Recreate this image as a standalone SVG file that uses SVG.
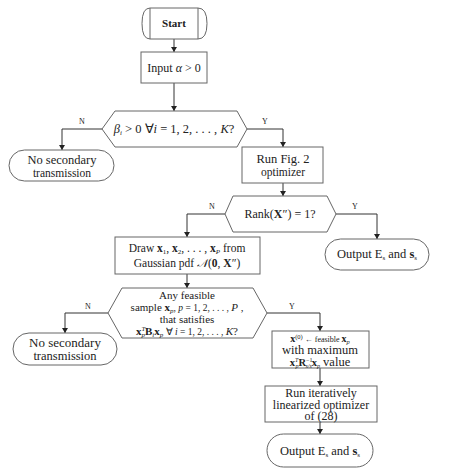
<svg xmlns="http://www.w3.org/2000/svg" width="474" height="473" viewBox="0 0 474 473">
<defs>
<marker id="ah" markerWidth="6" markerHeight="6" refX="5" refY="3" orient="auto" markerUnits="userSpaceOnUse">
<path d="M0,0 L5,3 L0,6 Z" fill="#222"/>
</marker>
<style>
.s{fill:#fff;stroke:#666;stroke-width:1}
.c{fill:none;stroke:#333;stroke-width:1;marker-end:url(#ah)}
text{font-family:"Liberation Serif","Times New Roman",serif;fill:#222;text-anchor:middle}
.l{font-size:8px}
.sub{font-size:7px}
</style>
</defs>
<rect width="474" height="473" fill="#fff"/>
<g id="connectors">
<path class="c" d="M174,39 V52"/>
<path class="c" d="M174,83 V111"/>
<path class="c" d="M102,129 H62 V150"/>
<path class="c" d="M247,129 H283 V147"/>
<path class="c" d="M283,183 V196"/>
<path class="c" d="M225,214 H187 V237"/>
<path class="c" d="M336,214 H377 V239"/>
<path class="c" d="M187,274 V288"/>
<path class="c" d="M108,313 H65 V333"/>
<path class="c" d="M267,313 H320 V331"/>
<path class="c" d="M320,368 V386"/>
<path class="c" d="M320,422 V434"/>
<text class="l" x="82" y="124">N</text>
<text class="l" x="265" y="124">Y</text>
<text class="l" x="212" y="209">N</text>
<text class="l" x="355" y="209">Y</text>
<text class="l" x="88" y="309">N</text>
<text class="l" x="292" y="309">Y</text>
</g>
<g id="start">
<path class="s" d="M150,8 H198 Q207,8 207,23.5 Q207,39 198,39 H150 Q142,39 142,23.5 Q142,8 150,8 Z"/>
<line x1="150" y1="8" x2="150" y2="39" stroke="#666"/>
<line x1="198" y1="8" x2="198" y2="39" stroke="#666"/>
<text x="174" y="27" font-size="11" font-weight="bold">Start</text>
</g>
<g id="input">
<rect class="s" x="141" y="52" width="66" height="31"/>
<text x="174" y="72" font-size="12">Input <tspan font-style="italic">α</tspan> &gt; 0</text>
</g>
<g id="cond1">
<path class="s" d="M102,129 L115,111 H237 L247,129 L237,147 H115 Z"/>
<text x="174" y="133" font-size="12.5"><tspan font-style="italic">β</tspan><tspan class="sub" font-style="italic" dy="2">i</tspan><tspan dy="-2"> &gt; 0 ∀</tspan><tspan font-style="italic">i</tspan> = 1, 2, . . . , <tspan font-style="italic">K</tspan>?</text>
</g>
<g id="nosec1">
<rect class="s" x="9" y="150" width="105" height="31" rx="15.5"/>
<text x="62" y="164" font-size="12.5">No secondary</text>
<text x="62" y="176.5" font-size="11.5">transmission</text>
</g>
<g id="runfig2">
<rect class="s" x="242" y="147" width="81" height="36"/>
<text x="283" y="163" font-size="12.5">Run Fig. 2</text>
<text x="283" y="176" font-size="11.5">optimizer</text>
</g>
<g id="cond2">
<path class="s" d="M225,214 L233,196 H327 L336,214 L327,232 H233 Z"/>
<text x="280" y="218" font-size="12">Rank(<tspan font-weight="bold">X</tspan>″) = 1?</text>
</g>
<g id="output1">
<rect class="s" x="325" y="239" width="104" height="31" rx="15.5"/>
<text x="377" y="258" font-size="12.5">Output E<tspan class="sub" dy="2">s</tspan><tspan dy="-2"> and </tspan><tspan font-weight="bold">s</tspan><tspan class="sub" dy="2">s</tspan></text>
</g>
<g id="draw">
<rect class="s" x="115" y="237" width="145" height="37"/>
<text x="187" y="252" font-size="11.5">Draw <tspan font-weight="bold">x</tspan><tspan class="sub" dy="2">1</tspan><tspan dy="-2">, </tspan><tspan font-weight="bold">x</tspan><tspan class="sub" dy="2">2</tspan><tspan dy="-2">, . . . , </tspan><tspan font-weight="bold">x</tspan><tspan class="sub" dy="2" font-style="italic">P</tspan><tspan dy="-2">  from</tspan></text>
<text x="187" y="267" font-size="11.5">Gaussian pdf  <tspan font-style="italic">𝒩</tspan>(<tspan font-weight="bold">0</tspan>, <tspan font-weight="bold">X</tspan>″)</text>
</g>
<g id="cond3">
<path class="s" d="M108,313 L122,288 H253 L267,313 L253,338 H122 Z"/>
<text x="187" y="299" font-size="11">Any feasible</text>
<text x="187" y="311" font-size="11">sample <tspan font-weight="bold">x</tspan><tspan class="sub" dy="2" font-style="italic">p</tspan><tspan dy="-2" font-size="9.5">, </tspan><tspan font-size="9.5" font-style="italic">p</tspan><tspan font-size="9.5"> = 1, 2, . . . , </tspan><tspan font-style="italic">P</tspan> ,</text>
<text x="187" y="323" font-size="11">that satisfies</text>
<text x="187" y="335" font-size="11"><tspan font-weight="bold">x</tspan><tspan class="sub" dy="-4" font-style="italic">T</tspan><tspan class="sub" dx="-4" dy="6" font-style="italic">p</tspan><tspan dy="-2" font-weight="bold">B</tspan><tspan class="sub" dy="2" font-style="italic">i</tspan><tspan dy="-2" font-weight="bold">x</tspan><tspan class="sub" dy="2" font-style="italic">p</tspan><tspan dy="-2" font-size="9.5">  ∀ </tspan><tspan font-size="9.5" font-style="italic">i</tspan><tspan font-size="9.5"> = 1, 2, . . . , </tspan><tspan font-style="italic">K</tspan>?</text>
</g>
<g id="nosec2">
<rect class="s" x="13" y="333" width="104" height="32" rx="16"/>
<text x="65" y="347" font-size="13">No secondary</text>
<text x="65" y="360" font-size="12.5">transmission</text>
</g>
<g id="init">
<rect class="s" x="272" y="331" width="97" height="37"/>
<text x="320" y="342" font-size="10"><tspan font-weight="bold">x</tspan><tspan font-size="6.5" dy="-3">(0)</tspan><tspan dy="3" font-size="8"> ← feasible </tspan><tspan font-weight="bold">x</tspan><tspan font-size="6.5" dy="2" font-style="italic">p</tspan></text>
<text x="320" y="354" font-size="12.5">with maximum</text>
<text x="320" y="365.5" font-size="10.5"><tspan font-weight="bold">x</tspan><tspan font-size="6" dy="-4" font-style="italic">T</tspan><tspan font-size="6" dx="-3" dy="6" font-style="italic">p</tspan><tspan dy="-2" font-weight="bold">R</tspan><tspan font-size="6" dy="-4">−1</tspan><tspan font-size="6" dx="-7" dy="6" font-style="italic">s/s</tspan><tspan dy="-2" font-weight="bold">x</tspan><tspan font-size="6" dy="2" font-style="italic">p</tspan><tspan dy="-2" font-size="12.5"> value</tspan></text>
</g>
<g id="runiter">
<rect class="s" x="265" y="386" width="112" height="36"/>
<text x="321" y="397" font-size="12">Run iteratively</text>
<text x="321" y="408.5" font-size="12">linearized optimizer</text>
<text x="321" y="419.5" font-size="12">of (28)</text>
</g>
<g id="output2">
<rect class="s" x="267" y="434" width="106" height="33" rx="16.5"/>
<text x="320" y="455" font-size="12.5">Output E<tspan class="sub" dy="2">s</tspan><tspan dy="-2"> and </tspan><tspan font-weight="bold">s</tspan><tspan class="sub" dy="2">s</tspan></text>
</g>
</svg>
